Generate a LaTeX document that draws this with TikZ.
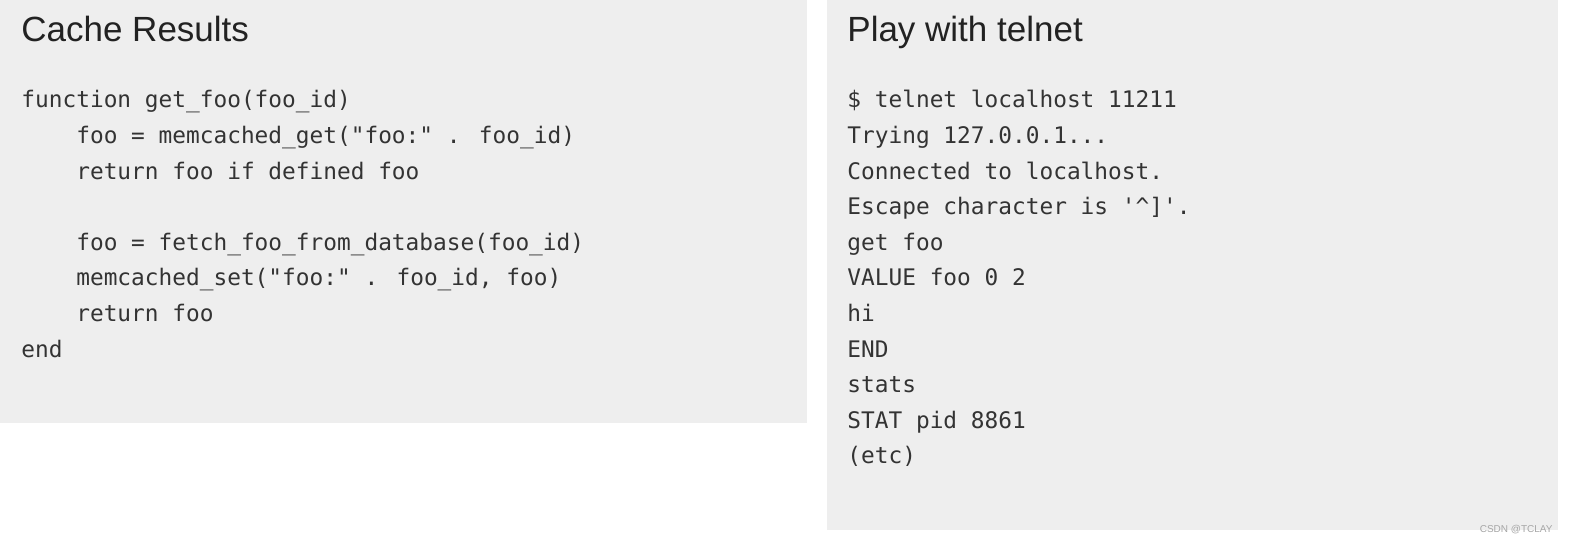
\documentclass[tikz,border=0pt]{standalone}
\usepackage{fontspec}
\setmainfont{Liberation Sans}
\newfontfamily\codefont{DejaVu Sans Mono}[FakeStretch=1.0]
\definecolor{panel}{HTML}{EEEEEE}
\definecolor{ink}{HTML}{222222}
\definecolor{codeink}{HTML}{333333}
\tikzset{x=0.5pt,y=-0.5pt,
 head/.style={anchor=base west,inner sep=0,text=ink,font=\fontsize{17.5}{20}\selectfont},
 code/.style={anchor=base west,inner sep=0,text=codeink,font=\codefont\fontsize{11.4}{14}\selectfont}}
\begin{document}
\begin{tikzpicture}
\useasboundingbox (0,0) rectangle (1586,550);
\fill[panel] (0,0) rectangle (807,423);
\fill[panel] (827,0) rectangle (1558,530);
\node[head] (h1) at (21,42) {Cache Results};
\node[head] (h2) at (847,42) {Play with telnet};
\foreach \t [count=\i from 0] in {{function get\_foo(foo\_id)},
  {\hphantom{xxxx}foo = memcached\_get("foo:" . foo\_id)},
  {\hphantom{xxxx}return foo if defined foo},
  {},
  {\hphantom{xxxx}foo = fetch\_foo\_from\_database(foo\_id)},
  {\hphantom{xxxx}memcached\_set("foo:" . foo\_id, foo)},
  {\hphantom{xxxx}return foo},
  {end}}
  \node[code] (l\i) at (21,{108+35.6*\i}) {\t};
\foreach \t [count=\i from 0] in {{\$ telnet localhost 11211},
  {Trying 127.0.0.1.\relax..},
  {Connected to localhost.},
  {Escape character is '\string^]'.},
  {get foo}, {VALUE foo 0 2}, {hi}, {END}, {stats}, {STAT pid 8861}, {(etc)}}
  \node[code] (r\i) at (847,{108+35.6*\i}) {\t};
\node[anchor=base east,inner sep=0,text=gray!70,font=\fontsize{5}{6}\selectfont] (wm) at (1553,533) {CSDN @TCLAY};
\end{tikzpicture}
\end{document}
